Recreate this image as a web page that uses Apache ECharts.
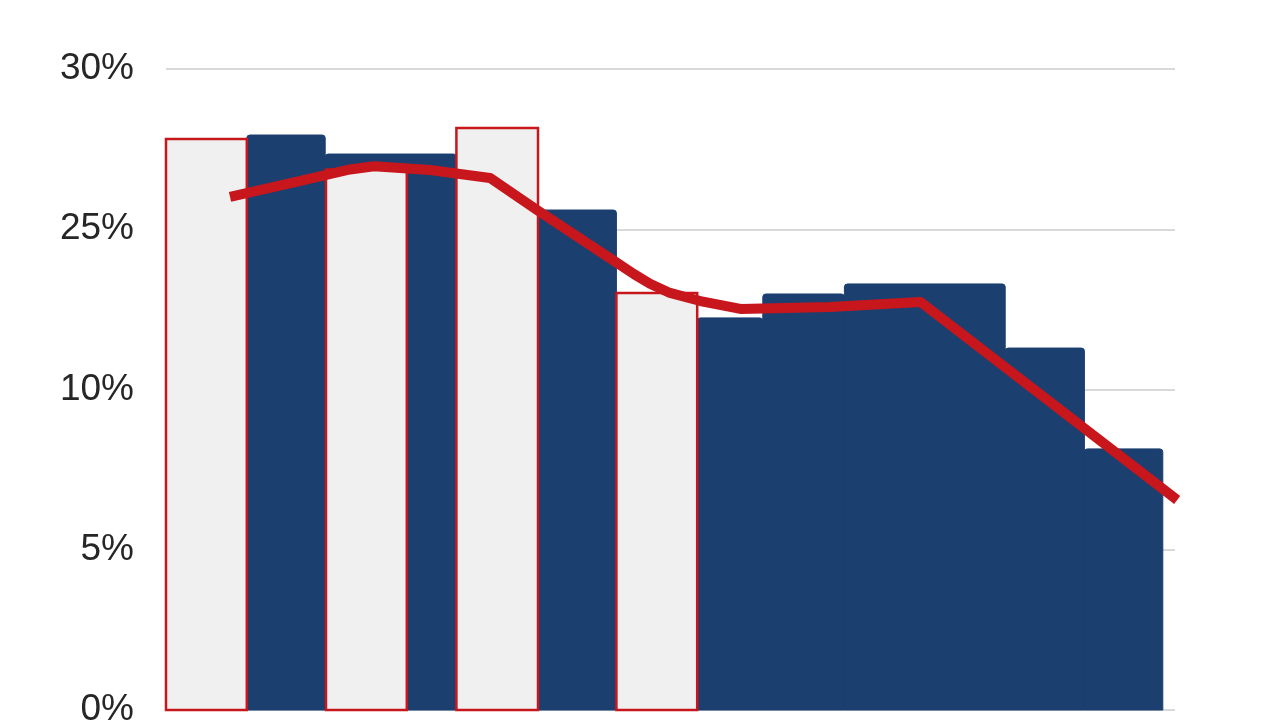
<!DOCTYPE html>
<html>
<head>
<meta charset="utf-8">
<style>
    html, body { margin: 0; padding: 0; background: #fff; }
    #chart { width: 1280px; height: 720px; }
</style>
<script src="https://cdn.jsdelivr.net/npm/echarts@6/dist/echarts.min.js"></script>
</head>
<body>
<div id="chart"></div>
<script>
    // ========= data =========
    const tickLabels = ["0%", "5%", "10%", "25%", "30%"];

    // light bars (red outline): start, end on the x scale, value
    const lightStart = [0, 2.0, 3.63, 5.63];
    const lightEnd = [1.01, 3.01, 4.65, 6.64];
    const lightValues = [26.72, 25.3, 27.24, 19.52];

    // dark blue bars
    const blueStart = [1.01, 1.99, 4.65, 6.64, 7.46, 8.48, 10.49, 11.48];
    const blueEnd = [1.99, 3.63, 5.63, 7.46, 8.48, 10.49, 11.48, 12.46];
    const blueValues = [26.91, 26.02, 23.40, 18.35, 19.47, 19.94, 16.94, 12.22];

    // red trend line
    const lineX = [0.8, 1.68, 2.3, 2.6, 3.3, 4.05, 4.64, 5.64, 5.85, 6.05, 6.3, 6.68, 7.18, 8.3, 9.43, 12.64];
    const lineValues = [24.01, 24.76, 25.3, 25.45, 25.27, 24.90, 23.40, 20.92, 20.4, 19.95, 19.52, 19.14, 18.77, 18.86, 19.10, 9.83];

    const BLUE = "#1b3f6f";
    const RED = "#c8161d";
    const LIGHT = "#f0f0f0";

    function zip3(a, b, c) {
        return a.map((v, i) => [v, b[i], c[i]]);
    }

    function barRenderer(style, radius) {
        return function (params, api) {
            const topLeft = api.coord([api.value(0), api.value(2)]);
            const bottomRight = api.coord([api.value(1), 0]);
            return {
                type: "rect",
                shape: {
                    x: topLeft[0],
                    y: topLeft[1],
                    width: bottomRight[0] - topLeft[0],
                    height: bottomRight[1] - topLeft[1],
                    r: radius
                },
                style: style
            };
        };
    }

    const chart = echarts.init(document.getElementById("chart"));

    chart.setOption({
        animation: false,
        grid: { left: 166, right: 105, top: 69, bottom: 10, outerBoundsMode: "none", containLabel: false },
        xAxis: {
            type: "value",
            min: 0,
            max: 12.6125,
            show: false
        },
        yAxis: {
            type: "value",
            min: 0,
            max: 30,
            interval: 7.5,
            axisLine: { show: false },
            axisTick: { show: false },
            axisLabel: {
                margin: 32,
                fontSize: 37,
                color: "#262626",
                fontFamily: "Liberation Sans, Arial, sans-serif",
                formatter: v => tickLabels[Math.round(v / 7.5)]
            },
            splitLine: { lineStyle: { color: "#d9d9d9", width: 2 } }
        },
        series: [
            {
                name: "blue",
                type: "custom",
                renderItem: barRenderer({ fill: BLUE, stroke: BLUE, lineWidth: 1 }, [3, 3, 0, 0]),
                encode: { x: [0, 1], y: 2 },
                data: zip3(blueStart, blueEnd, blueValues),
                z: 2
            },
            {
                name: "light",
                type: "custom",
                renderItem: barRenderer({ fill: LIGHT, stroke: RED, lineWidth: 2.5 }, 0),
                encode: { x: [0, 1], y: 2 },
                data: zip3(lightStart, lightEnd, lightValues),
                z: 3
            },
            {
                name: "trend",
                type: "line",
                data: lineX.map((x, i) => [x, lineValues[i]]),
                smooth: false,
                showSymbol: false,
                clip: false,
                lineStyle: { color: RED, width: 10, join: "round" },
                z: 5
            }
        ]
    });
</script>
</body>
</html>
